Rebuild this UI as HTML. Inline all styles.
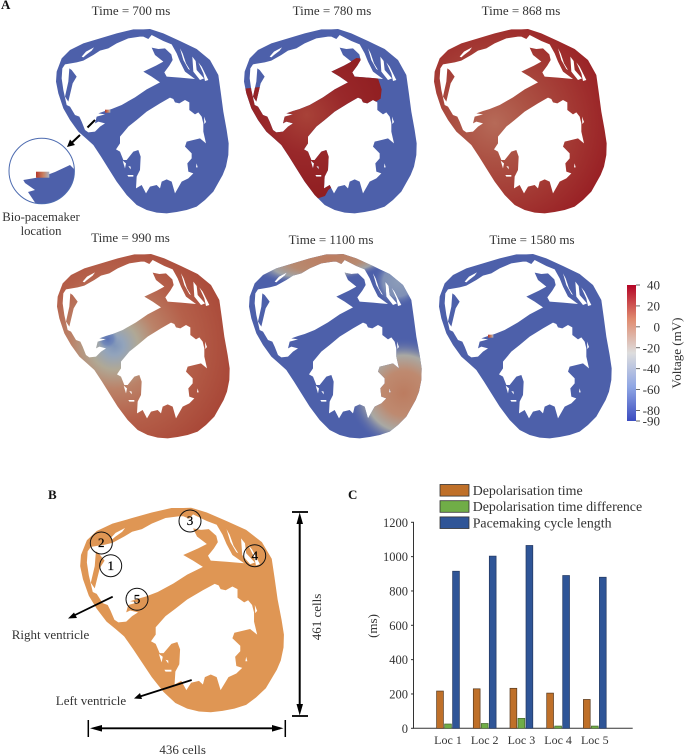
<!DOCTYPE html>
<html lang="en">
<head>
<meta charset="utf-8">
<title>Bio-pacemaker simulation figure</title>
<style>
html,body{margin:0;padding:0;background:#fff;width:685px;height:756px;overflow:hidden}
svg{display:block}
text{font-family:"Liberation Serif",serif;font-size:13px;fill:#333}
.lab{font-weight:bold;fill:#111;font-size:13px}
.mid{text-anchor:middle}
.num{fill:#000;stroke:#000;stroke-width:.25;text-anchor:middle}
</style>
</head>
<body>
<svg id="figure" width="685" height="756" viewBox="0 0 685 756" xmlns="http://www.w3.org/2000/svg">
<defs>
<path id="heart" fill-rule="evenodd" clip-rule="evenodd" d="M400,88 L430,88 450,87 490,100 540,123 590,147 630,180 655,225 662,275 670,335 680,390 686,430 685,465 678,500 668,525 640,575 615,600 590,620 560,630 530,636 500,640 470,638 440,630 410,615 380,585 350,545 325,505 303,470 280,435 258,415 235,395 210,360 190,325 175,280 168,245 170,215 185,175 210,150 250,130 300,115 350,100 Z
M195,193 L230,187 250,182 280,165 300,152 325,145 350,130 385,115 420,110 430,110 445,117 455,105 490,123 515,133 530,160 540,185 555,215 585,237 540,233 500,230 493,217 508,197 518,180 514,163 495,145 475,147 455,143 465,165 490,185 468,197 430,215 455,230 480,247 440,268 405,292 365,315 335,327 315,333 295,340 315,343 290,350 285,370 295,365 315,370 300,380 285,395 265,397 255,390 245,365 238,350 225,345 210,320 200,315 190,270 185,235 187,205 Z
M208,205 L215,210 230,230 218,250 205,305 195,290 205,245 Z
M245,170 L258,155 282,142 275,152 258,165 250,172 Z
M540,145 L548,160 558,190 570,210 565,207 550,180 Z
M577,170 L587,183 590,210 612,235 600,240 580,215 Z
M595,187 L605,200 625,240 615,243 610,220 Z
M510,293 L520,297 525,307 538,310 555,300 568,307 568,330 585,343 595,337 605,350 610,370 610,395 618,430 600,415 560,425 555,440 575,460 575,475 562,490 565,515 580,520 565,535 545,545 525,580 515,545 500,538 485,545 480,565 470,555 450,560 438,580 425,555 408,565 410,530 420,510 422,470 415,450 400,455 380,480 370,480 360,455 348,448 360,430 360,410 385,380 410,360 440,335 480,310 Z
M368,482 L378,490 375,505 Z
M385,498 L392,500 392,508 Z
M382,525 L400,525 400,530 385,530 Z
M590,490 L593,502 588,502 Z
M612,350 L618,366 613,372 Z"/>
<clipPath id="heartClip"><use href="#heart"/></clipPath>
<clipPath id="insetClip"><circle cx="41.7" cy="171" r="32.7"/></clipPath>
<radialGradient id="grad780" gradientUnits="userSpaceOnUse" cx="356" cy="345" r="260">
<stop offset="0" stop-color="#a84238"/><stop offset=".45" stop-color="#99282a"/><stop offset="1" stop-color="#8f1d20"/>
</radialGradient>
<radialGradient id="grad868" gradientUnits="userSpaceOnUse" cx="350" cy="370" r="360">
<stop offset="0" stop-color="#b66a58"/><stop offset=".3" stop-color="#ac5244"/><stop offset=".7" stop-color="#a23531"/><stop offset="1" stop-color="#981f24"/>
</radialGradient>
<radialGradient id="grad990" gradientUnits="userSpaceOnUse" cx="340" cy="362" r="360">
<stop offset="0" stop-color="#7f95ba"/><stop offset=".08" stop-color="#93a4bb"/><stop offset=".2" stop-color="#b0a895"/><stop offset=".36" stop-color="#bb8268"/><stop offset=".62" stop-color="#b5604a"/><stop offset="1" stop-color="#a94838"/>
</radialGradient>
<radialGradient id="grad990spot" gradientUnits="userSpaceOnUse" cx="320" cy="342" r="30">
<stop offset="0" stop-color="#5a72b4"/><stop offset=".6" stop-color="#6a82b8" stop-opacity=".8"/><stop offset="1" stop-color="#7f95ba" stop-opacity="0"/>
</radialGradient>
<radialGradient id="grad1100a" gradientUnits="userSpaceOnUse" cx="632" cy="505" r="168">
<stop offset="0" stop-color="#bc7c60"/><stop offset=".4" stop-color="#be8a70"/><stop offset=".68" stop-color="#a9a9a4"/><stop offset="1" stop-color="#4d60aa" stop-opacity="0"/>
</radialGradient>
<radialGradient id="grad1100b" gradientUnits="userSpaceOnUse" cx="0" cy="0" r="1" gradientTransform="translate(410 100) rotate(-8) scale(230 70)">
<stop offset="0" stop-color="#bc7c60"/><stop offset=".5" stop-color="#b78a70"/><stop offset=".75" stop-color="#a0a4a8"/><stop offset="1" stop-color="#4d60aa" stop-opacity="0"/>
</radialGradient>
<radialGradient id="grad1100c" gradientUnits="userSpaceOnUse" cx="615" cy="170" r="75">
<stop offset="0" stop-color="#8c9cb8"/><stop offset=".6" stop-color="#7f90b6"/><stop offset="1" stop-color="#4d60aa" stop-opacity="0"/>
</radialGradient>
<linearGradient id="cbGrad" x1="0" y1="0" x2="0" y2="1">
<stop offset="0" stop-color="#b40426"/><stop offset=".25" stop-color="#e08b6f"/><stop offset=".5" stop-color="#dddddd"/><stop offset=".75" stop-color="#8fa6e4"/><stop offset="1" stop-color="#3b4cc0"/>
</linearGradient>
<linearGradient id="insetMark" x1="0" x2="1" y1="0" y2="0">
<stop offset="0" stop-color="#b5392c"/><stop offset=".55" stop-color="#c88060"/><stop offset="1" stop-color="#a9b4c4"/>
</linearGradient>
</defs>

<text class="lab" x="1" y="9">A</text>
<text class="lab" x="48" y="499">B</text>
<text class="lab" x="348" y="499">C</text>

<!-- Panel A -->
<text class="mid" x="131" y="15">Time = 700 ms</text>
<text class="mid" x="332" y="15">Time = 780 ms</text>
<text class="mid" x="521" y="15">Time = 868 ms</text>
<text class="mid" x="130.5" y="242">Time = 990 ms</text>
<text class="mid" x="331" y="244">Time = 1100 ms</text>
<text class="mid" x="532" y="244">Time = 1580 ms</text>

<g transform="scale(.33333)">
<use href="#heart" fill="#4d60aa"/>
<rect x="315" y="329" width="16" height="9" fill="url(#insetMark)"/>
</g>
<g transform="translate(188 0) scale(.33333)">
<use href="#heart" fill="#4d60aa"/>
<g clip-path="url(#heartClip)">
<polygon fill="url(#grad780)" points="166,266 231,260 246,328 426,205 486,186 505,174 522,176 522,225 566,223 581,268 578,296 526,328 436,558 421,570 411,588 381,598 276,498 166,298"/>
</g>
</g>
<g transform="translate(378 0) scale(.33333)">
<use href="#heart" fill="url(#grad868)"/>
</g>
<g transform="translate(1 225) scale(.33333)">
<use href="#heart" fill="url(#grad990)"/>
<use href="#heart" fill="url(#grad990spot)"/>
</g>
<g transform="translate(193 225) scale(.33333)">
<use href="#heart" fill="#4d60aa"/>
<use href="#heart" fill="url(#grad1100c)"/>
<use href="#heart" fill="url(#grad1100b)"/>
<use href="#heart" fill="url(#grad1100a)"/>
</g>
<g transform="translate(383 225) scale(.33333)">
<use href="#heart" fill="#4d60aa"/>
<rect x="315" y="329" width="16" height="9" fill="url(#insetMark)"/>
</g>

<!-- Inset -->
<g>
<g clip-path="url(#insetClip)">
<polygon fill="#4d60aa" points="23.3,180 35,178 43,176.5 55,172 70,165 75,170 75,210 40,210 28,192 35,190 25,183"/>
<rect x="36" y="171.7" width="13.3" height="6" fill="url(#insetMark)"/>
</g>
<circle cx="41.7" cy="171" r="32.7" fill="none" stroke="#4d6bb0" stroke-width="1"/>
</g>
<g stroke="#000" stroke-width="2">
<line x1="95" y1="120" x2="87.5" y2="127.5"/>
<line x1="80" y1="135" x2="71" y2="143.5"/>
<polygon points="67,147 70,139.5 75,145" fill="#000" stroke="none"/>
</g>
<text class="mid" x="41" y="221" style="font-size:12.7px">Bio-pacemaker</text>
<text class="mid" x="41" y="235" style="font-size:12.7px">location</text>

<!-- Colour bar -->
<rect id="cb" x="627" y="285" width="9" height="136" fill="url(#cbGrad)"/>
<g id="cbTicks"></g>
<text transform="translate(681 353) rotate(-90)" class="mid">Voltage (mV)</text>

<!-- Panel B -->
<g transform="translate(14.1 475.5) scale(.39333 .37)">
<use href="#heart" fill="#df9654"/>
</g>
<g fill="none" stroke="#111" stroke-width="1">
<circle cx="110.7" cy="565.7" r="11"/>
<circle cx="101.3" cy="543" r="11"/>
<circle cx="190" cy="521" r="11"/>
<circle cx="254.7" cy="555.7" r="11"/>
<circle cx="137" cy="599.3" r="11"/>
</g>
<text class="num" x="110.7" y="570">1</text>
<text class="num" x="101.3" y="547">2</text>
<text class="num" x="190" y="525">3</text>
<text class="num" x="254.7" y="560">4</text>
<text class="num" x="137" y="603.5">5</text>

<g>
<line x1="112.7" y1="596.7" x2="73" y2="616" stroke="#000" stroke-width="1.8"/>
<polygon points="68,618.5 74,612.5 77,618" fill="#000"/>
</g>
<g>
<line x1="191.7" y1="680" x2="140" y2="696.5" stroke="#000" stroke-width="1.8"/>
<polygon points="134,698.5 140,693 142,699" fill="#000"/>
</g>
<text class="mid" x="50.5" y="639">Right ventricle</text>
<text class="mid" x="91" y="705">Left ventricle</text>

<g stroke="#000">
<line x1="292" y1="512" x2="308" y2="512" stroke-width="1.8"/>
<line x1="292" y1="716" x2="308" y2="716" stroke-width="1.8"/>
<line x1="299.7" y1="518" x2="299.7" y2="710" stroke-width="2"/>
<polygon points="299.7,512.5 296.5,524 303,524" fill="#000" stroke="none"/>
<polygon points="299.7,715.5 296.5,704 303,704" fill="#000" stroke="none"/>
</g>
<g stroke="#000">
<line x1="88.3" y1="720" x2="88.3" y2="737" stroke-width="1.5"/>
<line x1="285.3" y1="720" x2="285.3" y2="737" stroke-width="1.5"/>
<line x1="94" y1="728.3" x2="280" y2="728.3" stroke-width="1.8"/>
<polygon points="90,728.3 102,725 102,731.6" fill="#000" stroke="none"/>
<polygon points="283.5,728.3 272,725 272,731.6" fill="#000" stroke="none"/>
</g>
<text class="mid" x="182.7" y="754">436 cells</text>
<text class="mid" transform="translate(321 617) rotate(-90)">461 cells</text>

<!-- Panel C -->
<g id="legend"></g>
<g id="chart"></g>
</svg>

<script>
const categories = ["Loc 1", "Loc 2", "Loc 3", "Loc 4", "Loc 5"];
const depolarisationTime = [217, 230, 233, 205, 168];
const depolarisationDifference = [25, 28, 58, 13, 13];
const cycleLength = [915, 1003, 1065, 890, 880];
const yTicks = [0, 200, 400, 600, 800, 1000, 1200];
const legendLabels = ["Depolarisation time", "Depolarisation time difference", "Pacemaking cycle length"];
const colorbarTicks = [40, 20, 0, -20, -40, -60, -80, -90];

const NS = "http://www.w3.org/2000/svg";
function mk(parent, tag, attrs, txt) {
  const e = document.createElementNS(NS, tag);
  for (const k in attrs) e.setAttribute(k, attrs[k]);
  if (txt !== undefined) e.textContent = txt;
  parent.appendChild(e);
  return e;
}
const yScale = v => 728.3 - v * (206 / 1200);
const xCenter = i => 448 + 36.7 * i;
const cbScale = v => 285 + (40 - v) * (136 / 130);

const chart = document.getElementById("chart");
const xAxis = mk(chart, "line", {x1: 413.5, x2: 632.7, y1: yScale(0), y2: yScale(0), stroke: "#333", "stroke-width": 1});


const yAxis = mk(chart, "line", {x1: 413.5, x2: 413.5, y1: yScale(1200), y2: yScale(0), stroke: "#333", "stroke-width": 1});



yTicks.forEach(v => {
  const t = mk(chart, "line", {x1: 411, x2: 414, y1: yScale(v), y2: yScale(v), stroke: "#333", "stroke-width": 1});
  
  
  const l = mk(chart, "text", {x: 408, y: yScale(v) + 4.5, "text-anchor": "end", style: "font-size:12.5px"}, String(v));
  
  
});
const yTitle = mk(chart, "text", {transform: "translate(377 626) rotate(-90)", "text-anchor": "middle"}, "(ms)");



function drawBars(values, offset, fill, stroke) {
  values.forEach((v, i) => {
    const y = yScale(v);
    const b = mk(chart, "rect", {x: xCenter(i) + offset - 3.4, y: y, width: 6.8, height: yScale(0) - y, fill: fill, stroke: stroke, "stroke-width": 0.7});
    
    
  });
}
drawBars(depolarisationTime, -8, "#bf7029", "#55391f");
drawBars(depolarisationDifference, 0, "#70ad47", "#46662f");
drawBars(cycleLength, 8, "#2f5597", "#22375f");

categories.forEach((c, i) => {
  const l = mk(chart, "text", {x: xCenter(i), y: 744, "text-anchor": "middle", style: "font-size:12px"}, c);
  
  
});

const legend = document.getElementById("legend");
const legendColors = ["#bf7029", "#70ad47", "#2f5597"];
legendLabels.forEach((t, i) => {
  const y = 484.5 + 16.2 * i;
  const s = mk(legend, "rect", {x: 440, y: y, width: 29, height: 11.6, fill: legendColors[i], stroke: "#333", "stroke-width": 0.8});
  
  
  const l = mk(legend, "text", {x: 472.7, y: y + 10.5, style: "font-size:13.9px"}, t);
  
  
});

const cbg = document.getElementById("cbTicks");
colorbarTicks.forEach(v => {
  const y = cbScale(v);
  const t = mk(cbg, "line", {x1: 636, x2: 640, y1: y, y2: y, stroke: "#444", "stroke-width": 0.8});
  
  
  const l = mk(cbg, "text", {x: 660, y: y + 4.5, "text-anchor": "end"}, String(v));
  
  
});
</script>
</body>
</html>
